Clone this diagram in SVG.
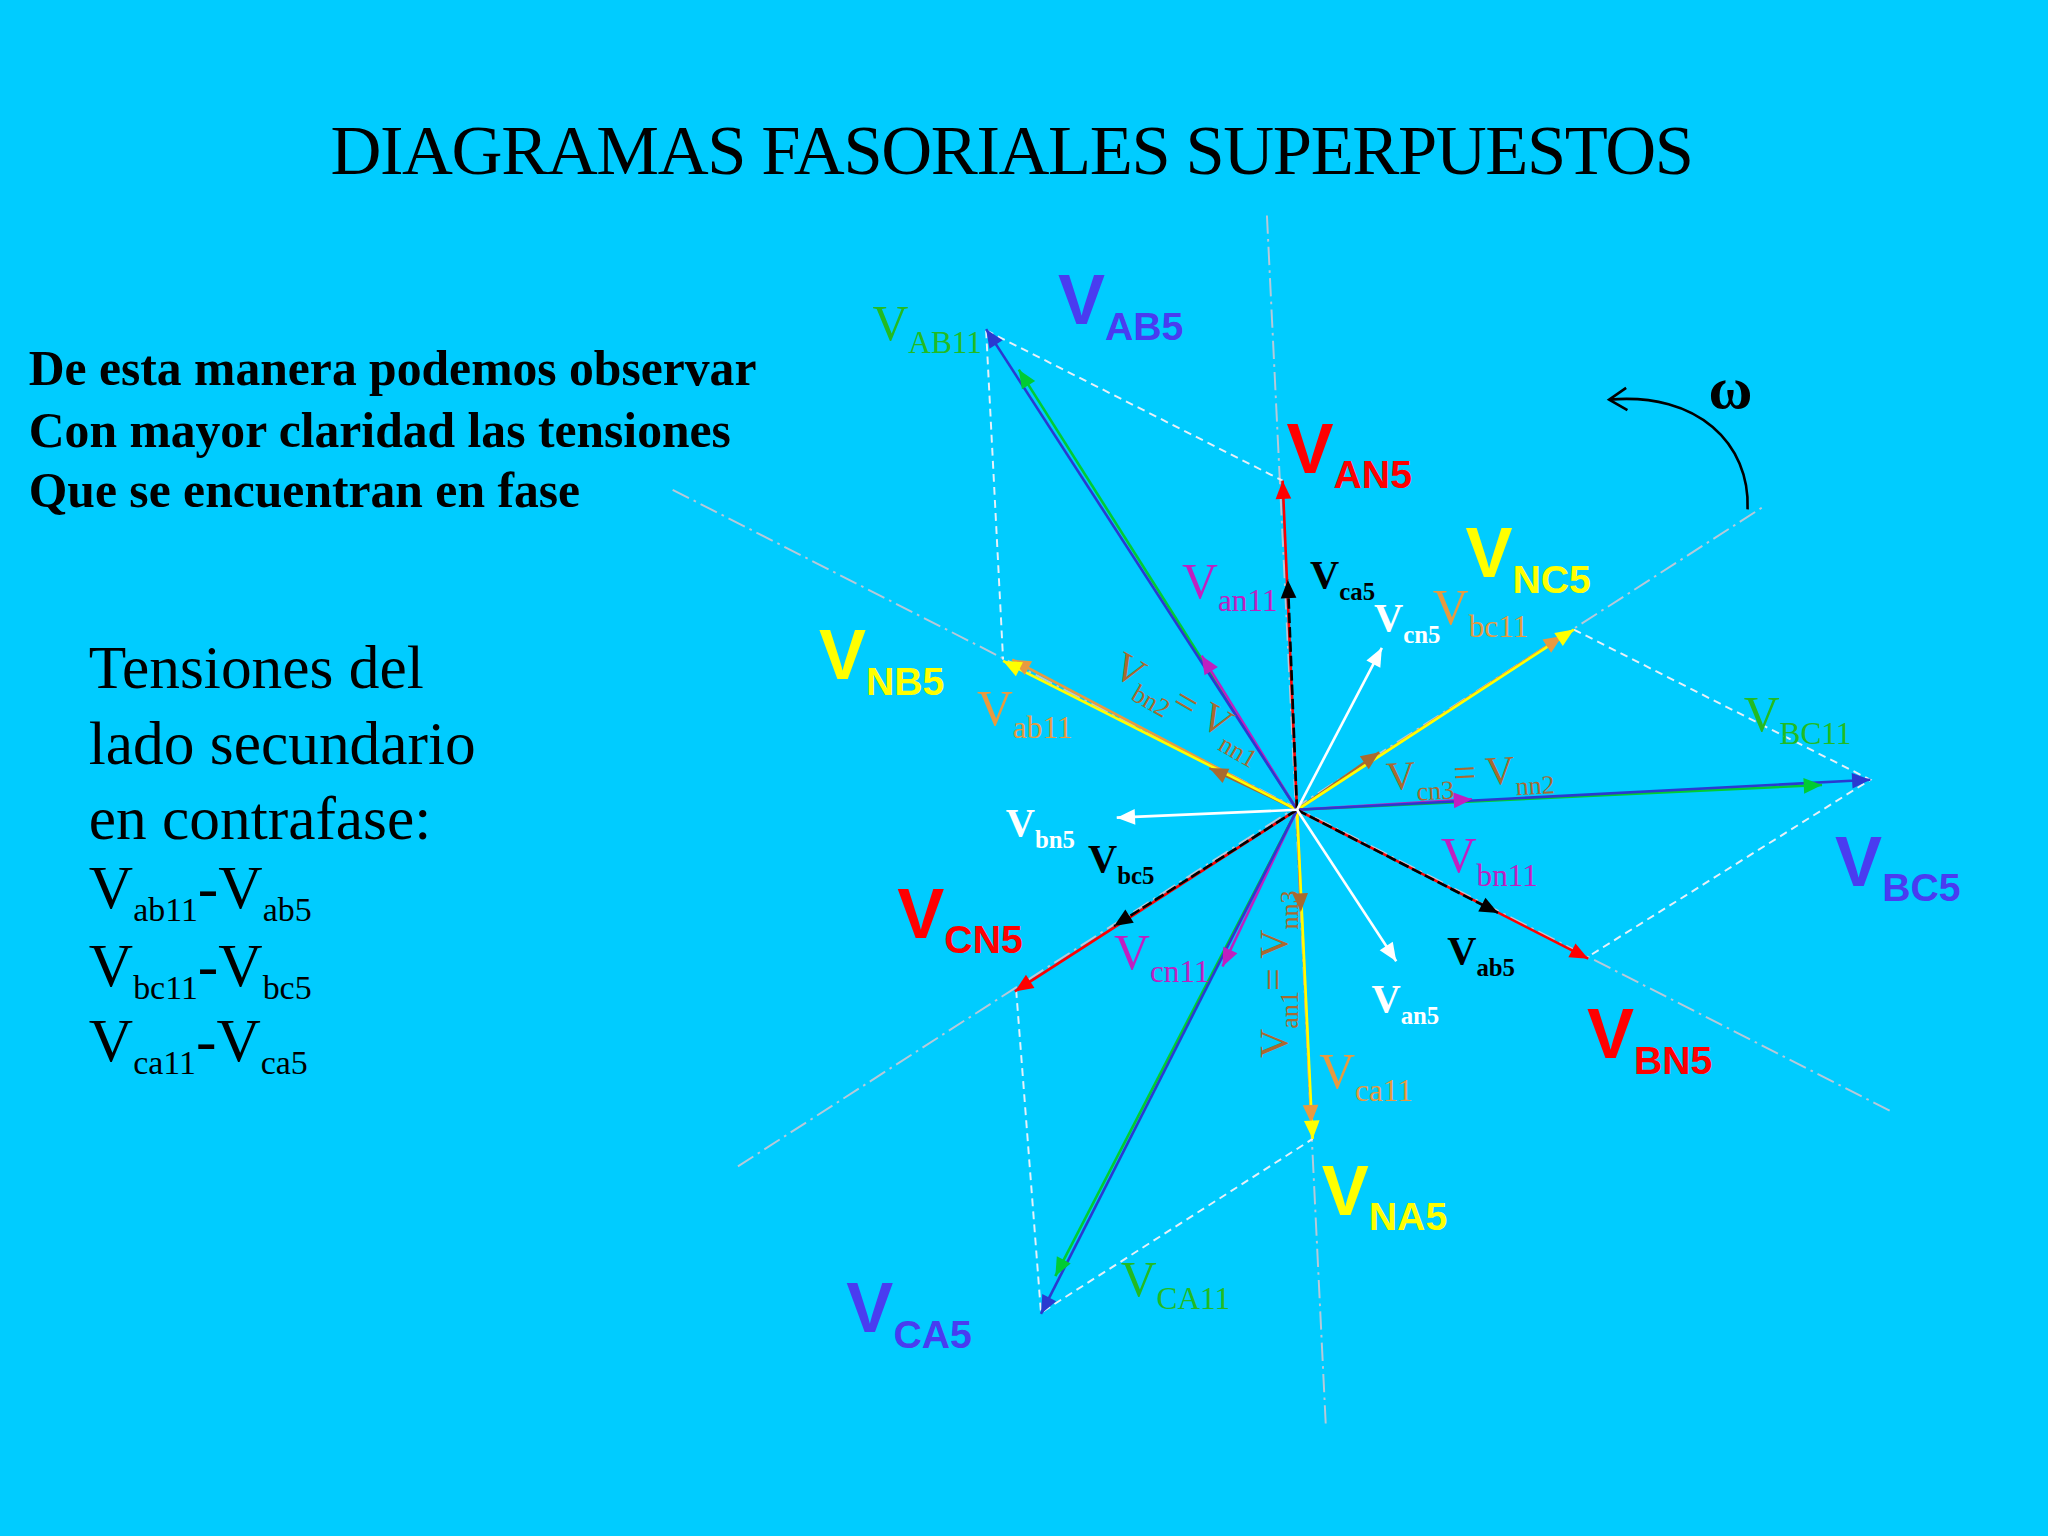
<svg xmlns="http://www.w3.org/2000/svg" width="2048" height="1536" viewBox="0 0 2048 1536">
<defs>
<style>
.sf{font-family:"Liberation Serif",serif}
.ss{font-family:"Liberation Sans",sans-serif;font-weight:bold}
.big{font-size:54px}.big .s{font-size:30px}
.md{font-size:38px}.md .s{font-size:24px}
.br{font-size:31px}.br .s{font-size:20px}
.bk{font-size:31px;font-weight:bold}.bk .s{font-size:19px}
.ax{stroke:#b8c8d8;stroke-width:1.5;stroke-dasharray:14 4 2 4;fill:none}
.dl{stroke:#e8f0f8;stroke-width:1.5;stroke-dasharray:6 4;fill:none}
</style>
</defs>
<rect width="2048" height="1536" fill="#00ccff"/>
<g transform="scale(1.30612)">
<text class="sf" x="775" y="133" font-size="54" text-anchor="middle" textLength="1044">DIAGRAMAS FASORIALES SUPERPUESTOS</text>
<g id="txt1" class="sf" font-size="38" font-weight="bold">
<text x="22" y="295">De esta manera podemos observar</text>
<text x="22" y="342">Con mayor claridad las tensiones</text>
<text x="22" y="388">Que se encuentran en fase</text>
</g>
<g id="txt2" class="sf" font-size="47">
<text x="68" y="527">Tensiones del</text>
<text x="68" y="585">lado secundario</text>
<text x="68" y="642">en contrafase:</text>
<text x="68" y="695">V<tspan font-size="26" dy="10">ab11</tspan><tspan dy="-10">-V</tspan><tspan font-size="26" dy="10">ab5</tspan></text>
<text x="68" y="755">V<tspan font-size="26" dy="10">bc11</tspan><tspan dy="-10">-V</tspan><tspan font-size="26" dy="10">bc5</tspan></text>
<text x="68" y="812">V<tspan font-size="26" dy="10">ca11</tspan><tspan dy="-10">-V</tspan><tspan font-size="26" dy="10">ca5</tspan></text>
</g>
<g id="axes">
<line class="ax" x1="970" y1="165" x2="1015" y2="1090"/>
<line class="ax" x1="515" y1="375" x2="1450" y2="852"/>
<line class="ax" x1="565" y1="893" x2="1350" y2="388"/>
<path class="dl" d="M755 253L982 368M755 253L768 505M1205 482L1432 597L1215 733M778 758L797 1005L1005 872"/>
</g>
<g id="connectors" fill="none" stroke-width="2">
<g stroke="#a86a30">
<line x1="993" y1="620" x2="926" y2="588"/>
<line x1="993" y1="620" x2="1056" y2="576"/>
<line x1="993" y1="620" x2="996" y2="698"/>
</g>
<g stroke="#e89a40">
<line x1="993" y1="620" x2="775" y2="505"/>
<line x1="993" y1="620" x2="1196" y2="487"/>
<line x1="993" y1="620" x2="1004" y2="860"/>
</g>
<g stroke="#ffff00">
<line x1="993" y1="620" x2="768" y2="506"/>
<line x1="993" y1="620" x2="1205" y2="482"/>
<line x1="993" y1="620" x2="1005" y2="872"/>
</g>
<g stroke="#00cc33">
<line x1="993" y1="620" x2="780" y2="283"/>
<line x1="993" y1="620" x2="1395" y2="601"/>
<line x1="993" y1="620" x2="808" y2="977"/>
</g>
<g stroke="#c020c0">
<line x1="993" y1="620" x2="920" y2="502"/>
<line x1="993" y1="620" x2="1127" y2="612"/>
<line x1="993" y1="620" x2="936" y2="740"/>
</g>
<g stroke="#2a3ad0">
<line x1="993" y1="620" x2="755" y2="252"/>
<line x1="993" y1="620" x2="1432" y2="597"/>
<line x1="993" y1="620" x2="797" y2="1006"/>
</g>
<g stroke="#ff0000">
<line x1="993" y1="620" x2="982" y2="368"/>
<line x1="993" y1="620" x2="1216" y2="734"/>
<line x1="993" y1="620" x2="777" y2="759"/>
</g>
<g stroke="#000" stroke-dasharray="8 3">
<line x1="993" y1="620" x2="986" y2="444"/>
<line x1="993" y1="620" x2="1147" y2="699"/>
<line x1="993" y1="620" x2="853" y2="709"/>
</g>
<g stroke="#ffffff">
<line x1="993" y1="620" x2="1058" y2="496"/>
<line x1="993" y1="620" x2="855" y2="626"/>
<line x1="993" y1="620" x2="1069" y2="736"/>
</g>
<path d="M1338 390C1340 340 1300 300 1232 306" stroke="#000"/>
<path d="M1245 297L1232 306L1246 314" stroke="#000"/>
</g>
<g id="heads">
<g fill="#a86a30">
<path d="M0 0L-14 -6L-14 6z" transform="translate(926,588) rotate(205.5)"/>
<path d="M0 0L-14 -6L-14 6z" transform="translate(1056,576) rotate(-34.9)"/>
<path d="M0 0L-14 -6L-14 6z" transform="translate(996,698) rotate(87.8)"/>
</g>
<g fill="#e89a40">
<path d="M0 0L-14 -6L-14 6z" transform="translate(775,505) rotate(207.8)"/>
<path d="M0 0L-14 -6L-14 6z" transform="translate(1196,487) rotate(-33.2)"/>
<path d="M0 0L-14 -6L-14 6z" transform="translate(1004,860) rotate(87.4)"/>
</g>
<g fill="#ffff00">
<path d="M0 0L-14 -6L-14 6z" transform="translate(768,506) rotate(206.9)"/>
<path d="M0 0L-14 -6L-14 6z" transform="translate(1205,482) rotate(-33.1)"/>
<path d="M0 0L-14 -6L-14 6z" transform="translate(1005,872) rotate(87.3)"/>
</g>
<g fill="#00cc33">
<path d="M0 0L-14 -6L-14 6z" transform="translate(780,283) rotate(237.7)"/>
<path d="M0 0L-14 -6L-14 6z" transform="translate(1395,601) rotate(-2.7)"/>
<path d="M0 0L-14 -6L-14 6z" transform="translate(808,977) rotate(117.4)"/>
</g>
<g fill="#c020c0">
<path d="M0 0L-14 -6L-14 6z" transform="translate(920,502) rotate(238.3)"/>
<path d="M0 0L-14 -6L-14 6z" transform="translate(1127,612) rotate(-3.4)"/>
<path d="M0 0L-14 -6L-14 6z" transform="translate(936,740) rotate(115.4)"/>
</g>
<g fill="#2a3ad0">
<path d="M0 0L-14 -6L-14 6z" transform="translate(755,252) rotate(237.1)"/>
<path d="M0 0L-14 -6L-14 6z" transform="translate(1432,597) rotate(-3)"/>
<path d="M0 0L-14 -6L-14 6z" transform="translate(797,1006) rotate(116.9)"/>
</g>
<g fill="#ff0000">
<path d="M0 0L-14 -6L-14 6z" transform="translate(982,368) rotate(-92.5)"/>
<path d="M0 0L-14 -6L-14 6z" transform="translate(1216,734) rotate(27.1)"/>
<path d="M0 0L-14 -6L-14 6z" transform="translate(777,759) rotate(147.2)"/>
</g>
<g fill="#000">
<path d="M0 0L-14 -6L-14 6z" transform="translate(986,444) rotate(-92.3)"/>
<path d="M0 0L-14 -6L-14 6z" transform="translate(1147,699) rotate(27.2)"/>
<path d="M0 0L-14 -6L-14 6z" transform="translate(853,709) rotate(147.6)"/>
</g>
<g fill="#ffffff">
<path d="M0 0L-14 -6L-14 6z" transform="translate(1058,496) rotate(-62.3)"/>
<path d="M0 0L-14 -6L-14 6z" transform="translate(855,626) rotate(177.5)"/>
<path d="M0 0L-14 -6L-14 6z" transform="translate(1069,736) rotate(56.8)"/>
</g>
</g>
<g id="labels">
<text class="sf" x="1308" y="312" font-size="46" font-weight="bold">ω</text>
<g class="ss big" fill="#4a3cf0">
<text x="810" y="248">V<tspan class="s" dy="12">AB5</tspan></text>
<text x="1405" y="678">V<tspan class="s" dy="12">BC5</tspan></text>
<text x="648" y="1020">V<tspan class="s" dy="12">CA5</tspan></text>
</g>
<g class="ss big" fill="#ff0000">
<text x="985" y="362">V<tspan class="s" dy="12">AN5</tspan></text>
<text x="1215" y="810">V<tspan class="s" dy="12">BN5</tspan></text>
<text x="687" y="718">V<tspan class="s" dy="12">CN5</tspan></text>
</g>
<g class="ss big" fill="#ffff00">
<text x="1122" y="442">V<tspan class="s" dy="12">NC5</tspan></text>
<text x="627" y="520">V<tspan class="s" dy="12">NB5</tspan></text>
<text x="1012" y="930">V<tspan class="s" dy="12">NA5</tspan></text>
</g>
<g class="sf md" fill="#22bb22">
<text x="668" y="260">V<tspan class="s" dy="10">AB11</tspan></text>
<text x="1335" y="560">V<tspan class="s" dy="10">BC11</tspan></text>
<text x="858" y="992">V<tspan class="s" dy="10">CA11</tspan></text>
</g>
<g class="sf md" fill="#c020c0">
<text x="905" y="458">V<tspan class="s" dy="10">an11</tspan></text>
<text x="1103" y="668">V<tspan class="s" dy="10">bn11</tspan></text>
<text x="853" y="742">V<tspan class="s" dy="10">cn11</tspan></text>
</g>
<g class="sf md" fill="#e89a40">
<text x="748" y="555">V<tspan class="s" dy="10">ab11</tspan></text>
<text x="1097" y="478">V<tspan class="s" dy="10">bc11</tspan></text>
<text x="1010" y="833">V<tspan class="s" dy="10">ca11</tspan></text>
</g>
<g class="sf bk" fill="#000">
<text x="1003" y="450">V<tspan class="s" dy="9">ca5</tspan></text>
<text x="833" y="668">V<tspan class="s" dy="9">bc5</tspan></text>
<text x="1108" y="738">V<tspan class="s" dy="9">ab5</tspan></text>
</g>
<g class="sf bk" fill="#ffffff">
<text x="1052" y="483">V<tspan class="s" dy="9">cn5</tspan></text>
<text x="770" y="640">V<tspan class="s" dy="9">bn5</tspan></text>
<text x="1050" y="775">V<tspan class="s" dy="9">an5</tspan></text>
</g>
<g class="sf br" fill="#a86a30">
<text transform="translate(850,516) rotate(30)">V<tspan class="s" dy="9">bn2</tspan><tspan dy="-9">= V</tspan><tspan class="s" dy="9">nn1</tspan></text>
<text x="1062" y="605" transform="rotate(-3 1062 605)">V<tspan class="s" dy="9">cn3</tspan><tspan dy="-9">= V</tspan><tspan class="s" dy="9">nn2</tspan></text>
<text transform="translate(985,810) rotate(-90)">V<tspan class="s" dy="9">an1</tspan><tspan dy="-9">= V</tspan><tspan class="s" dy="9">nn3</tspan></text>
</g>
</g>
</g>
</svg>
